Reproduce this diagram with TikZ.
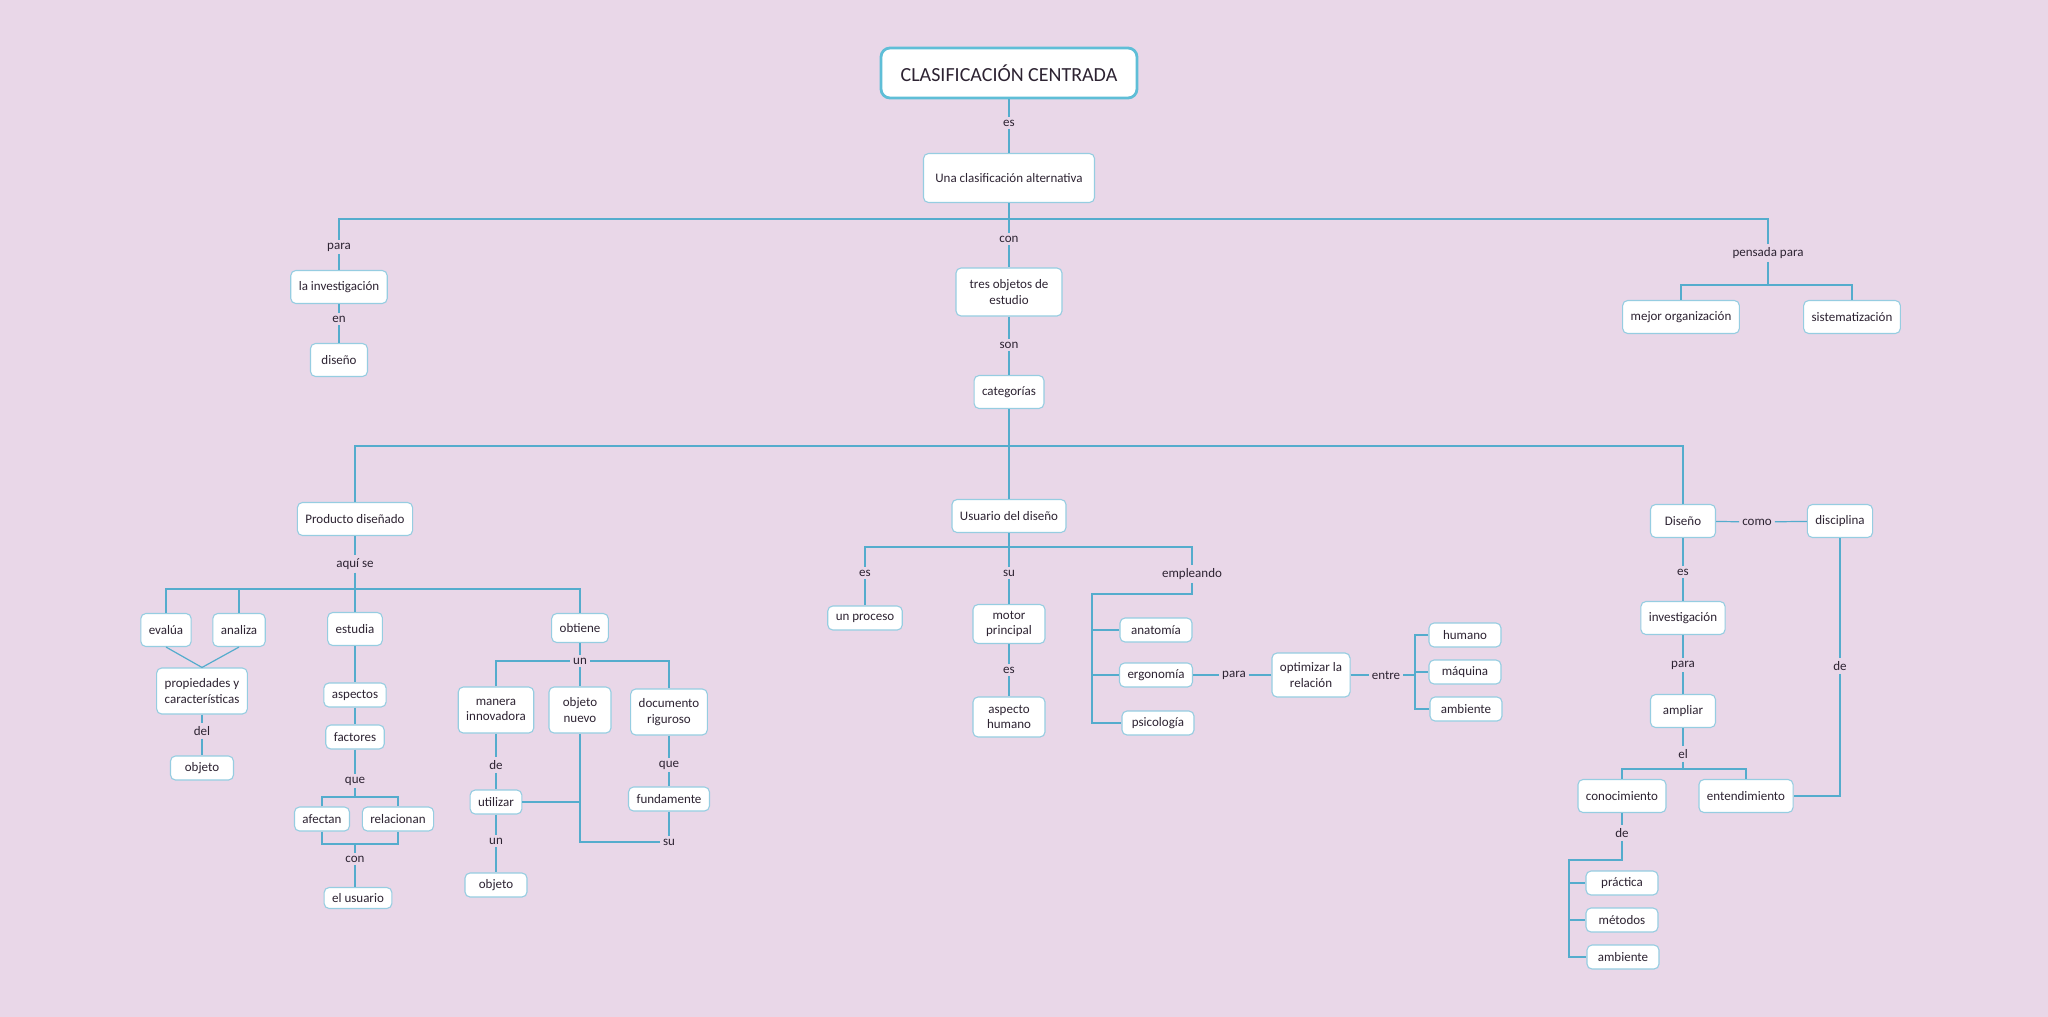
\documentclass[tikz,border=0pt]{standalone}
\usepackage{fontspec}
\setmainfont{Carlito}
\definecolor{BgClr}{RGB}{233,215,232}
\definecolor{LineClr}{RGB}{84,172,205}
\definecolor{BoxClr}{RGB}{150,205,225}
\definecolor{TitleClr}{RGB}{95,190,215}
\definecolor{TxtClr}{RGB}{45,35,50}
\begin{document}
\begin{tikzpicture}[x=1pt,y=-1pt,
  box/.style={draw=BoxClr,line width=1.1pt,fill=white,rounded corners=5pt,text=TxtClr,
    font=\fontsize{13}{15.5}\selectfont,align=center,inner xsep=8pt,inner ysep=3pt,minimum height=24pt},
  bigbox/.style={box,minimum height=33pt},
  wbox/.style={box,minimum width=72pt},
  twobox/.style={box,minimum height=46pt},
  lbl/.style={text=TxtClr,font=\fontsize{13}{15.5}\selectfont,inner sep=3pt},
  link/.style={draw=LineClr,line width=1.2pt}]
\fill[BgClr] (0,0) rectangle (2048,1017);

\node[box,line width=2.8pt,draw=TitleClr,rounded corners=9pt,font=\fontsize{20}{24}\selectfont,
  minimum width=256pt,minimum height=50pt] (title) at (1009,73) {CLASIFICACIÓN CENTRADA};
\node[lbl] (es1) at (1009,123) {es};
\node[box,minimum width=171pt,minimum height=49pt] (una) at (1009,178) {Una clasificación alternativa};
\coordinate (top) at (1009,219);
\node[lbl] (para1) at (339,247) {para};
\node[bigbox] (invest1) at (339,287) {la investigación};
\node[lbl] (en1) at (339,319) {en};
\node[bigbox,minimum width=57pt] (diseno1) at (339,360) {diseño};
\node[lbl] (con1) at (1009,239) {con};
\node[box,minimum width=106pt,minimum height=48pt] (tres) at (1009,292) {tres objetos de\\estudio};
\node[lbl] (son1) at (1009,345) {son};
\node[bigbox] (categ) at (1009,392) {categorías};
\node[lbl] (pens) at (1768,253) {pensada para};
\coordinate (pbar) at (1768,285);
\node[bigbox] (mejor) at (1681,317) {mejor organización};
\node[bigbox] (sistem) at (1852,317) {sistematización};

\draw[link] (title) -- (es1) -- (una) -- (top);
\draw[link] (para1) |- (top) -| (pens);
\draw[link] (top) -- (con1) -- (tres) -- (son1) -- (categ);
\draw[link] (para1) -- (invest1) -- (en1) -- (diseno1);
\draw[link] (pens) -- (pbar);
\draw[link] (mejor) |- (pbar) -| (sistem);

\coordinate (cbar) at (1009,446);
\node[bigbox] (prod) at (355,519) {Producto diseñado};
\node[bigbox] (usu) at (1009,516) {Usuario del diseño};
\node[bigbox,minimum width=65pt] (dis) at (1683,521) {Diseño};
\draw[link] (categ) -- (usu);
\draw[link] (prod) |- (cbar) -| (dis);

\node[lbl] (aqui) at (355,564) {aquí se};
\coordinate (abar) at (355,589);
\node[bigbox] (evalua) at (166,630) {evalúa};
\node[bigbox] (analiza) at (239,630) {analiza};
\node[bigbox] (estudia) at (355,629) {estudia};
\node[box,minimum height=29pt] (obtiene) at (580,628) {obtiene};
\draw[link] (prod) -- (aqui) -- (estudia);
\draw[link] (evalua) |- (abar) -| (obtiene);
\draw[link] (analiza) -- (analiza |- abar);

\node[twobox] (prop) at (202,691) {propiedades y\\características};
\node[lbl] (del1) at (202,731) {del};
\node[box,minimum width=63pt] (objeto1) at (202,768) {objeto};
\draw[link] (evalua.south) -- (prop.north) -- (analiza.south);
\draw[link] (prop) -- (del1) -- (objeto1);

\node[box] (aspectos) at (355,695) {aspectos};
\node[box] (factores) at (355,737) {factores};
\node[lbl] (que1) at (355,781) {que};
\coordinate (qbar) at (355,797);
\node[box] (afectan) at (322,819) {afectan};
\node[box] (relac) at (398,819) {relacionan};
\coordinate (cbar2) at (355,844);
\node[lbl] (con2) at (355,859) {con};
\node[box,minimum height=21pt] (usuario) at (358,898) {el usuario};
\draw[link] (estudia) -- (aspectos) -- (factores) -- (que1) -- (qbar);
\draw[link] (afectan) |- (qbar) -| (relac);
\draw[link] (afectan) |- (cbar2) -| (relac);
\draw[link] (cbar2) -- (con2) -- (con2 |- usuario.north);

\node[lbl] (un1) at (580,661) {un};
\node[twobox] (manera) at (496,710) {manera\\innovadora};
\node[twobox,minimum width=62pt] (nuevo) at (580,710) {objeto\\nuevo};
\node[twobox] (docu) at (669,712) {documento\\riguroso};
\draw[link] (obtiene) -- (un1) -- (nuevo);
\draw[link] (manera) |- (un1) -| (docu);
\node[lbl] (de1) at (496,765) {de};
\node[box] (utilizar) at (496,802) {utilizar};
\node[lbl] (un2) at (496,841) {un};
\node[box,minimum width=62pt] (objeto2) at (496,885) {objeto};
\node[lbl] (que2) at (669,765) {que};
\node[box] (fund) at (669,799) {fundamente};
\node[lbl] (su1) at (669,842) {su};
\draw[link] (manera) -- (de1) -- (utilizar) -- (un2) -- (objeto2);
\draw[link] (docu) -- (que2) -- (fund) -- (su1);
\draw[link] (nuevo) |- (su1);
\draw[link] (utilizar) -- (utilizar -| nuevo);

\coordinate (ubar) at (1009,547);
\node[lbl] (es2) at (865,573) {es};
\node[box] (proceso) at (865,618) {un proceso};
\node[lbl] (su2) at (1009,573) {su};
\node[box,minimum width=72pt,minimum height=39pt] (motor) at (1009,624) {motor\\principal};
\node[lbl] (es3) at (1009,670) {es};
\node[box,minimum width=72pt,minimum height=40pt] (aspecto) at (1009,717) {aspecto\\humano};
\node[lbl] (emple) at (1192,574) {empleando};
\coordinate (ej) at (1092,594);
\draw[link] (usu) -- (su2) -- (motor) -- (es3) -- (aspecto);
\draw[link] (es2) |- (ubar) -| (emple);
\draw[link] (es2) -- (proceso);

\node[wbox] (anat) at (1156,630) {anatomía};
\node[wbox] (ergo) at (1156,675) {ergonomía};
\node[wbox] (psico) at (1158,723) {psicología};
\draw[link] (emple) |- (ej) |- (psico);
\draw[link] (ej |- anat) -- (anat);
\draw[link] (ej |- ergo) -- (ergo);

\node[lbl] (para2) at (1234,675) {para};
\node[box,minimum height=44pt] (optim) at (1311,675) {optimizar la\\relación};
\node[lbl] (entre) at (1386,675) {entre};
\coordinate (eb) at (1415,675);
\node[wbox] (humano) at (1465,635) {humano};
\node[wbox] (maquina) at (1465,672) {máquina};
\node[wbox] (amb1) at (1466,709) {ambiente};
\draw[link] (ergo) -- (para2) -- (optim) -- (entre) -- (eb);
\draw[link] (humano) -| (eb) |- (amb1);
\draw[link] (eb |- maquina) -- (maquina);

\node[lbl] (como) at (1757,522) {como};
\node[bigbox] (discip) at (1840,521) {disciplina};
\node[lbl] (es4) at (1683,572) {es};
\node[bigbox] (invest2) at (1683,618) {investigación};
\node[lbl] (para3) at (1683,665) {para};
\node[bigbox,minimum width=65pt] (ampliar) at (1683,711) {ampliar};
\node[lbl] (el1) at (1683,754) {el};
\coordinate (ebar) at (1683,769);
\node[bigbox] (conoc) at (1622,796) {conocimiento};
\node[bigbox] (entend) at (1746,796) {entendimiento};
\node[lbl] (de2) at (1840,666) {de};
\node[lbl] (de3) at (1622,833) {de};
\coordinate (dj) at (1569,860);
\node[wbox] (pract) at (1622,883) {práctica};
\node[wbox] (metod) at (1622,920) {métodos};
\node[wbox] (amb2) at (1623,957) {ambiente};
\draw[link] (dis) -- (como) -- (discip);
\draw[link] (dis) -- (es4) -- (invest2) -- (para3) -- (ampliar) -- (el1) -- (ebar);
\draw[link] (conoc) |- (ebar) -| (entend);
\draw[link] (discip) -- (de2) |- (entend);
\draw[link] (conoc) -- (de3);
\draw[link] (de3) |- (dj) |- (amb2);
\draw[link] (dj |- pract) -- (pract);
\draw[link] (dj |- metod) -- (metod);
\end{tikzpicture}
\end{document}
